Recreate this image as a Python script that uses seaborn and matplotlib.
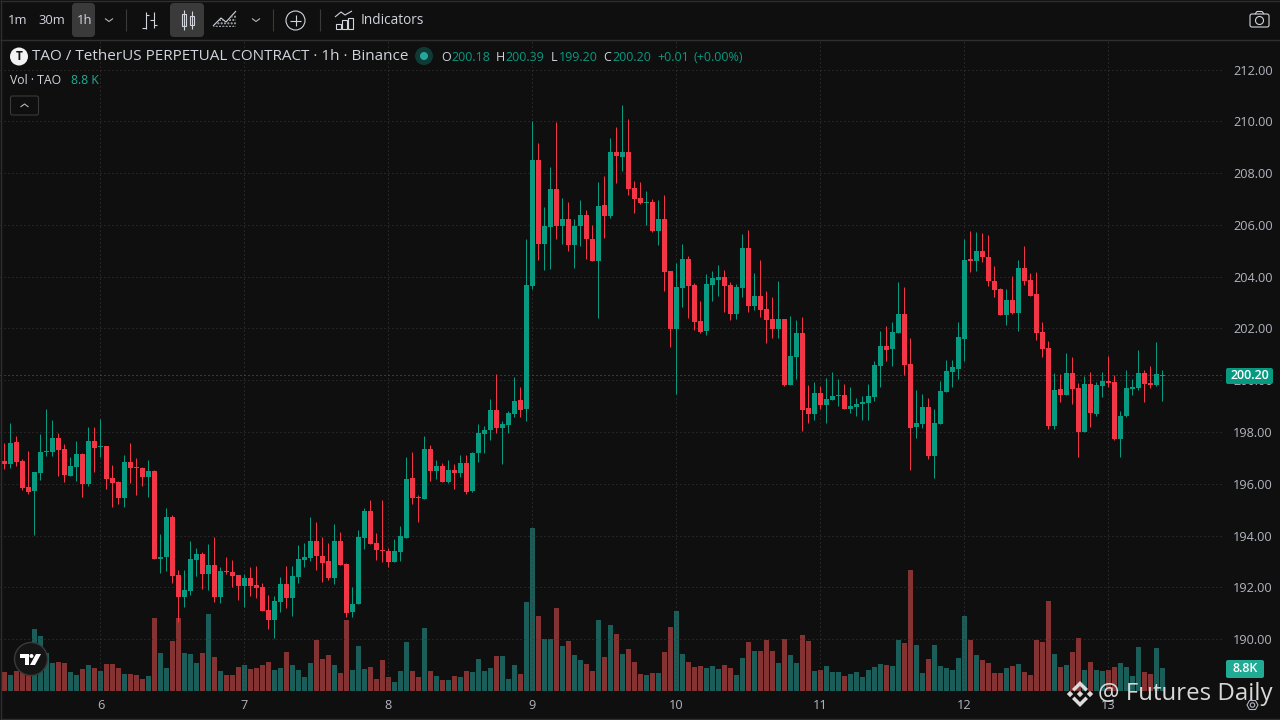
import matplotlib
matplotlib.use('Agg')
import matplotlib.pyplot as plt
from matplotlib.patches import Circle, FancyBboxPatch, Polygon, Rectangle
import numpy as np
import pandas as pd
import seaborn as sns

BG = '#0f0f0f'
UP = '#089981'
DOWN = '#f23645'
VOL_UP = '#1a5d59'
VOL_DOWN = '#843232'
GRID = '#3a3a3a'
TEXT = '#b2b5be'

open_px = [
    196.89, 196.78, 197.63, 196.89, 195.89, 195.73, 196.43, 197.24, 197.24, 197.78,
    197.36, 196.31, 196.66, 197.16, 196.01, 197.67, 197.43, 197.47, 196.24, 196.08,
    195.46, 196.85, 196.66, 196.62, 196.28, 196.51, 193.11, 193.19, 194.73, 192.49,
    191.64, 191.87, 193.07, 193.30, 192.53, 192.88, 191.64, 192.65, 192.61, 192.49,
    192.07, 192.38, 192.11, 192.03, 191.14, 190.75, 191.45, 192.14, 191.60, 192.41,
    193.07, 193.15, 193.80, 193.23, 193.03, 192.38, 193.80, 192.92, 191.05, 191.37,
    193.92, 194.96, 193.73, 193.46, 193.42, 193.00, 193.38, 193.92, 196.24, 195.50,
    195.43, 197.36, 196.51, 196.70, 196.08, 196.55, 196.43, 196.82, 195.73, 197.20,
    197.94, 198.09, 198.86, 198.17, 198.28, 198.71, 199.25, 198.90, 203.63, 208.51,
    205.28, 205.90, 207.40, 205.94, 206.21, 205.21, 205.94, 206.40, 205.44, 204.59,
    206.78, 206.36, 208.82, 208.63, 208.82, 207.44, 207.05, 206.86, 206.90, 205.78,
    206.21, 204.21, 201.97, 203.55, 204.67, 203.67, 202.28, 201.90, 203.67, 203.86,
    203.97, 203.67, 202.55, 203.55, 205.09, 202.86, 203.24, 202.74, 202.36, 201.97,
    202.36, 199.81, 200.89, 201.82, 198.92, 198.69, 199.50, 199.04, 199.23, 199.39,
    199.43, 198.89, 198.96, 199.08, 199.12, 199.35, 200.55, 201.32, 201.20, 201.82,
    202.55, 200.62, 198.19, 198.31, 198.96, 197.07, 198.31, 199.54, 200.31, 200.43,
    201.59, 204.68, 204.60, 204.99, 204.75, 203.83, 203.52, 202.51, 203.09, 202.59,
    204.33, 203.87, 203.33, 201.86, 201.24, 198.23, 199.66, 199.43, 200.28, 199.70,
    198.00, 199.85, 198.69, 199.77, 199.97, 199.93, 197.73, 198.62, 199.66, 199.70,
    200.28, 199.89, 199.81, 200.18,
]
high_px = [
    197.59, 198.36, 197.86, 196.97, 197.28, 196.47, 197.94, 198.90, 198.48, 197.97,
    197.55, 197.05, 197.67, 197.20, 198.21, 198.21, 198.51, 197.47, 196.74, 196.12,
    197.12, 197.59, 197.01, 196.66, 196.93, 196.55, 194.07, 195.08, 194.81, 192.68,
    192.68, 193.80, 193.53, 193.38, 193.69, 193.96, 192.80, 193.19, 193.07, 192.49,
    192.53, 192.80, 192.84, 192.18, 191.72, 191.68, 192.41, 192.84, 192.84, 193.65,
    193.73, 194.73, 194.54, 193.96, 193.73, 194.46, 194.15, 192.95, 192.03, 194.23,
    195.08, 195.39, 194.11, 195.39, 193.53, 193.88, 194.38, 197.05, 197.24, 195.58,
    197.86, 197.51, 196.93, 196.82, 196.93, 196.78, 197.12, 197.12, 197.24, 198.32,
    198.24, 199.29, 200.25, 198.44, 198.82, 200.14, 199.75, 205.44, 210.00, 209.17,
    206.71, 208.24, 209.97, 207.05, 206.90, 206.24, 206.97, 206.59, 206.01, 207.67,
    207.90, 209.36, 209.78, 210.63, 210.09, 207.71, 207.67, 207.32, 207.01, 206.97,
    207.17, 204.21, 204.51, 205.28, 204.78, 203.74, 203.05, 204.09, 204.21, 204.47,
    204.24, 203.78, 203.71, 205.63, 205.82, 204.13, 204.63, 203.44, 203.21, 203.82,
    202.36, 202.48, 202.32, 202.44, 199.81, 199.93, 199.77, 200.08, 200.31, 200.04,
    199.85, 199.73, 199.31, 199.39, 199.85, 200.74, 201.90, 202.09, 202.24, 203.79,
    203.60, 201.63, 199.62, 199.46, 199.31, 198.89, 199.97, 200.78, 200.78, 202.24,
    205.45, 205.76, 205.72, 205.68, 205.60, 204.41, 203.56, 203.52, 204.02, 204.64,
    205.18, 204.14, 204.18, 202.24, 201.51, 200.28, 200.24, 201.05, 200.89, 199.89,
    200.16, 200.31, 199.93, 200.31, 200.93, 200.20, 198.81, 200.39, 200.04, 201.16,
    200.39, 200.55, 201.47, 200.39,
]
low_px = [
    196.58, 196.62, 196.70, 195.77, 195.62, 194.04, 196.16, 197.09, 197.09, 196.31,
    196.08, 196.31, 196.12, 195.50, 195.93, 196.47, 197.05, 195.81, 195.12, 195.23,
    195.12, 196.04, 195.58, 195.93, 195.50, 193.11, 192.57, 192.65, 192.18, 190.68,
    191.26, 191.72, 192.45, 191.95, 191.91, 191.45, 191.41, 192.53, 192.03, 191.53,
    191.26, 191.68, 191.60, 191.10, 190.41, 190.06, 191.06, 191.22, 190.91, 192.17,
    192.80, 193.03, 192.68, 192.22, 192.30, 192.14, 192.88, 190.86, 190.86, 191.37,
    193.50, 193.69, 193.07, 193.00, 192.80, 193.00, 193.03, 193.92, 195.23, 194.54,
    195.43, 196.12, 196.20, 196.08, 196.04, 195.81, 196.28, 195.62, 195.70, 196.85,
    197.20, 197.70, 197.97, 196.78, 197.97, 198.59, 198.59, 198.44, 203.51, 204.63,
    204.24, 204.28, 205.44, 205.28, 205.01, 204.32, 205.17, 204.67, 204.59, 202.40,
    205.51, 206.28, 207.63, 208.09, 207.17, 206.47, 206.82, 206.01, 205.74, 205.24,
    203.44, 201.28, 199.47, 202.82, 202.40, 201.94, 201.82, 201.74, 203.05, 203.24,
    202.63, 202.32, 202.36, 203.21, 202.63, 202.71, 202.44, 201.44, 201.63, 201.63,
    199.77, 199.81, 200.04, 198.04, 198.34, 198.46, 198.89, 198.34, 199.23, 199.00,
    198.89, 198.73, 198.62, 198.46, 198.46, 199.19, 199.73, 200.74, 200.55, 201.82,
    200.20, 196.53, 197.77, 198.15, 196.95, 196.22, 198.31, 199.54, 199.73, 200.04,
    200.74, 204.18, 204.21, 204.56, 203.63, 203.21, 202.51, 202.13, 202.55, 201.90,
    203.67, 203.25, 201.55, 200.89, 198.11, 198.11, 199.16, 199.43, 199.08, 197.03,
    198.00, 198.19, 198.62, 199.35, 199.73, 197.69, 197.03, 198.58, 199.43, 199.62,
    199.16, 199.70, 199.77, 199.20,
]
close_px = [
    196.78, 197.59, 196.85, 195.85, 195.70, 196.47, 197.24, 197.28, 197.78, 197.32,
    196.35, 196.70, 197.16, 196.01, 197.67, 197.40, 197.47, 196.20, 196.04, 195.46,
    196.85, 196.62, 196.62, 196.28, 196.51, 193.11, 193.19, 194.73, 192.45, 191.64,
    191.91, 193.11, 193.30, 192.53, 192.88, 191.64, 192.65, 192.61, 192.45, 192.07,
    192.38, 192.07, 191.99, 191.10, 190.75, 191.49, 192.14, 191.60, 192.45, 193.11,
    193.19, 193.80, 193.23, 192.95, 192.38, 193.80, 192.88, 191.02, 191.37, 193.96,
    194.96, 193.69, 193.46, 193.42, 193.00, 193.42, 194.00, 196.20, 195.46, 195.46,
    197.36, 196.51, 196.70, 196.08, 196.55, 196.43, 196.82, 195.70, 197.20, 197.97,
    198.09, 198.86, 198.17, 198.32, 198.75, 199.21, 198.86, 203.67, 208.51, 205.28,
    205.94, 207.40, 205.94, 206.21, 205.24, 205.97, 206.40, 205.44, 204.59, 206.74,
    206.36, 208.82, 208.67, 208.82, 207.40, 207.01, 206.86, 206.90, 205.78, 206.24,
    204.17, 201.97, 203.59, 204.67, 203.63, 202.24, 201.86, 203.71, 203.94, 203.97,
    203.63, 202.55, 203.59, 205.09, 202.86, 203.24, 202.71, 202.32, 201.97, 202.36,
    199.81, 200.93, 201.82, 198.85, 198.69, 199.50, 199.04, 199.27, 199.39, 199.43,
    198.89, 199.00, 199.08, 199.16, 199.39, 200.58, 201.32, 201.16, 201.86, 202.55,
    200.58, 198.15, 198.34, 198.96, 197.07, 198.34, 199.58, 200.35, 200.51, 201.67,
    204.64, 204.60, 204.99, 204.75, 203.83, 203.48, 202.51, 203.09, 202.59, 204.33,
    203.83, 203.25, 201.82, 201.20, 198.23, 199.62, 199.43, 200.28, 199.66, 198.00,
    199.85, 198.73, 199.81, 199.97, 199.89, 197.73, 198.62, 199.70, 199.73, 200.28,
    199.85, 199.81, 200.24, 200.20,
]
# volume in thousands of TAO
volume_k = [
    7.3, 6.1, 7.7, 7.3, 6.9, 23.7, 21.0, 14.5, 10.7, 11.1,
    10.7, 7.3, 6.1, 8.4, 9.9, 8.8, 7.7, 10.3, 10.3, 8.8,
    6.5, 6.5, 6.1, 4.6, 5.7, 27.9, 14.5, 8.8, 19.1, 27.9,
    14.5, 14.2, 10.7, 14.5, 29.5, 13.0, 7.7, 6.1, 6.1, 9.2,
    9.9, 8.4, 8.8, 9.9, 11.1, 8.0, 8.8, 14.9, 9.9, 8.0,
    5.4, 10.7, 19.5, 12.2, 13.8, 9.9, 6.9, 27.2, 8.0, 17.2,
    8.4, 9.2, 4.6, 11.9, 5.4, 3.4, 7.7, 18.7, 7.7, 5.4,
    24.1, 7.7, 5.7, 4.2, 4.2, 5.7, 5.4, 7.7, 7.3, 12.2,
    7.7, 8.8, 13.4, 13.4, 4.6, 9.9, 6.5, 34.0, 62.3, 28.7,
    19.9, 19.9, 31.7, 17.2, 19.1, 13.8, 11.9, 10.3, 7.7, 27.2,
    13.0, 25.2, 21.8, 14.2, 16.1, 11.1, 6.5, 6.1, 6.9, 6.9,
    14.9, 24.5, 30.6, 14.2, 11.1, 9.2, 9.6, 8.8, 9.6, 8.4,
    9.9, 8.8, 6.1, 12.6, 18.7, 15.3, 15.3, 19.5, 15.3, 10.7,
    19.9, 13.8, 10.7, 21.4, 19.1, 7.7, 8.0, 9.6, 7.3, 7.3,
    5.7, 6.5, 7.3, 5.4, 8.0, 9.2, 10.3, 9.9, 9.6, 19.5,
    18.4, 46.3, 17.6, 6.9, 12.2, 17.6, 9.6, 8.8, 8.0, 12.6,
    28.7, 19.5, 13.8, 11.9, 10.7, 6.9, 6.9, 8.8, 9.6, 10.3,
    7.3, 6.1, 19.5, 18.7, 34.4, 14.2, 9.2, 9.9, 14.9, 20.3,
    8.0, 11.1, 8.0, 7.7, 8.0, 9.2, 10.7, 9.2, 5.7, 16.8,
    7.3, 6.5, 16.4, 8.8,
]
day_ticks = [16, 40, 64, 88, 112, 136, 160, 184]
day_labels = ['6', '7', '8', '9', '10', '11', '12', '13']
price_ticks = list(range(190, 214, 2))
last_close = 200.20

df = pd.DataFrame({'open': open_px, 'high': high_px, 'low': low_px,
                   'close': close_px, 'volume': volume_k})
df['t'] = np.arange(len(df))
df['side'] = np.where(df['close'] >= df['open'], 'up', 'down')
df['color'] = df['side'].map({'up': UP, 'down': DOWN})

sns.set_theme(style='dark', rc={'figure.facecolor': BG, 'axes.facecolor': BG,
                                'savefig.facecolor': BG})
plt.rcParams['font.family'] = ['Open Sans', 'DejaVu Sans']

fig = plt.figure(figsize=(12.8, 7.2), dpi=100)
W, H = 1280, 720
# chart pane runs from x=0 to 1222 and y=40 to 691 in pixels
rect = [0, (H - 691) / H, 1222 / W, 651 / H]
ax_vol = fig.add_axes(rect)
ax = fig.add_axes(rect, sharex=ax_vol)

# volume first, so the candles sit on top
sns.barplot(data=df, x='t', y='volume', hue='side', ax=ax_vol, native_scale=True,
            palette={'up': VOL_UP, 'down': VOL_DOWN}, dodge=False, width=5 / 6,
            saturation=1, linewidth=0, legend=False)
ax_vol.set_ylim(0, 249)
ax_vol.set_xlabel('')
ax_vol.set_ylabel('')
ax_vol.set_yticks([])
ax_vol.set_xticks(day_ticks)
ax_vol.set_xticklabels(day_labels, color=TEXT, fontsize=9.2)
ax_vol.tick_params(axis='x', length=0, pad=6)
ax_vol.set_xlim(-0.75, 202.917)
for spine in ax_vol.spines.values():
    spine.set_visible(False)

ax.patch.set_visible(False)
ax.vlines(df['t'], df['low'], df['high'], colors=df['color'], linewidth=0.72, zorder=3)
ax.bar(df['t'], (df['close'] - df['open']).abs().clip(lower=0.04),
       bottom=df[['open', 'close']].min(axis=1), width=5 / 6, color=df['color'],
       linewidth=0, zorder=4)
ax.set_ylim(188.0, 213.14)
ax.set_yticks(price_ticks)
ax.set_yticklabels([f'{p:.2f}' for p in price_ticks], color=TEXT, fontsize=9.2)
ax.yaxis.tick_right()
ax.tick_params(axis='y', length=0, pad=8)
ax.tick_params(axis='x', length=0, labelbottom=False)
for spine in ax.spines.values():
    spine.set_visible(False)
dots = (0, (1, 3))
for p in price_ticks:
    ax.axhline(p, color=GRID, linewidth=0.72, linestyle=dots, zorder=1)
for d in day_ticks:
    ax.axvline(d, color=GRID, linewidth=0.72, linestyle=dots, zorder=1)
ax.axhline(last_close, color='#1f7f72', linewidth=0.72, linestyle=dots, zorder=2)

# everything around the chart, in pixel coordinates
ui = fig.add_axes([0, 0, 1, 1], zorder=10)
ui.set_xlim(0, W)
ui.set_ylim(H, 0)
ui.axis('off')
LINE = '#d1d4dc'
EDGE = '#2e2e2e'


def label(x, y, s, color=LINE, size=9.4, ha='left', **kw):
    ui.text(x, y, s, color=color, fontsize=size, ha=ha, va='center', **kw)


def stroke(xs, ys, color=LINE, lw=0.8, **kw):
    ui.plot(xs, ys, color=color, linewidth=lw, solid_capstyle='butt', **kw)


def round_box(x, y, w, h, fc, ec='none', r=4):
    ui.add_patch(FancyBboxPatch((x, y), w, h, boxstyle=f'round,pad=0,rounding_size={r}',
                                fc=fc, ec=ec, lw=0.8))


def chevron(cx, cy, up=False):
    d = -3 if up else 3
    stroke([cx - 4, cx, cx + 4], [cy - d / 2, cy + d / 2, cy - d / 2], color=TEXT)


# frame and toolbar
stroke([0, W], [39.5, 39.5], color=EDGE, lw=1)
stroke([0.5, 0.5], [0, H], color=EDGE, lw=1)
stroke([0, W], [0.5, 0.5], color=EDGE, lw=1)
stroke([0, W], [H - 1.5, H - 1.5], color=EDGE, lw=1)
round_box(72, 3, 23, 34, '#3a3a3a')
round_box(170, 3, 34, 34, '#3a3a3a')
label(8, 20.5, '1m')
label(38, 20.5, '30m')
label(77, 20.5, '1h')
chevron(109, 20)
chevron(256, 20)
for x in (125.5, 272.5, 319.5):
    stroke([x, x], [9, 31], color='#3a3a3a', lw=0.8)

# bars icon
stroke([146, 146], [12, 29])
stroke([142, 146], [28, 28])
stroke([146, 149], [15, 15])
stroke([154, 154], [12, 28])
stroke([150, 154], [20, 20])
stroke([154, 157], [25, 25])
# candles icon
stroke([183.5, 183.5], [10, 30])
ui.add_patch(Rectangle((181.5, 14), 4, 12, fc='#3a3a3a', ec=LINE, lw=0.8))
stroke([191.5, 191.5], [11, 29])
ui.add_patch(Rectangle((189.5, 16), 4, 9, fc='#3a3a3a', ec=LINE, lw=0.8))
# area icon
ui.add_patch(Polygon([(213, 27), (221, 19), (226, 23), (236, 13), (236, 27)],
                     fc='none', ec=TEXT, lw=0, hatch='.....'))
stroke([213, 221, 226, 236], [26, 18, 22, 11])
# plus icon
ui.add_patch(Circle((295.5, 20.5), 9.5, fc='none', ec=LINE, lw=0.8))
stroke([290, 301], [20.5, 20.5])
stroke([295.5, 295.5], [15, 26])
# indicators icon
for x0, top in ((335.5, 23.5), (341.5, 19.5), (347.5, 17.5)):
    ui.add_patch(Rectangle((x0, top), 5, 28.5 - top, fc='none', ec=LINE, lw=0.8))
stroke([335, 341, 345, 352], [17, 12, 15, 11])
label(361, 20.5, 'Indicators', size=9.8)
# camera
round_box(1250, 14, 19, 13, 'none', ec=LINE, r=2)
stroke([1255, 1257, 1262, 1264], [14, 11.5, 11.5, 14])
ui.add_patch(Circle((1259.5, 20.5), 4, fc='none', ec=LINE, lw=0.8))

# legend rows
ui.add_patch(Circle((19, 56.5), 9, fc='#f2f2f2', ec='none'))
label(19, 56.5, 'T', color='#111111', size=8.5, ha='center', fontweight='bold')
label(32, 57, 'TAO / TetherUS PERPETUAL CONTRACT · 1h · Binance', size=11)
ui.add_patch(Circle((424, 56), 9, fc='#0f3a36', ec='none'))
ui.add_patch(Circle((424, 56), 4, fc='#26a69a', ec='none'))
for x, s, c in [(441, 'O', LINE), (451, '200.18', UP), (496, 'H', LINE), (505, '200.39', UP),
                (551, 'L', LINE), (559, '199.20', UP), (603, 'C', LINE), (612, '200.20', UP),
                (657, '+0.01', UP), (693, '(+0.00%)', UP)]:
    label(x, 57.5, s, color=c, size=9)
label(10, 81, 'Vol · TAO', size=8.8)
label(71, 81, '8.8 K', color='#22ab94', size=8.8)
round_box(10.5, 96, 28, 19, BG, ec='#3a3a3a', r=2)
chevron(24.5, 105.5, up=True)

# last value tags
round_box(1226, 368, 47, 16, UP, r=2)
label(1249.5, 375.5, '200.20', color='white', size=9, ha='center', fontweight='semibold')
round_box(1226, 660, 38, 18, '#22ab94', r=2)
label(1245, 669, '8.8K', color='white', size=9, ha='center', fontweight='semibold')

# TradingView badge
ui.add_patch(Circle((31, 659), 16.5, fc='#151515', ec='#3a3a3a', lw=1))
ui.add_patch(Polygon([(20, 654), (29, 654), (29, 665), (25, 665), (25, 658), (20, 658)],
                     fc='white', ec='none'))
ui.add_patch(Circle((31.5, 656), 2, fc='white', ec='none'))
ui.add_patch(Polygon([(36, 654), (41, 654), (35, 665), (30, 665)], fc='white', ec='none'))

# settings hexagon
ui.add_patch(Polygon([(1247, 705), (1249.5, 700.5), (1255.5, 700.5), (1258, 705),
                      (1255.5, 709.5), (1249.5, 709.5)], fc='none', ec=TEXT, lw=0.8))
ui.add_patch(Circle((1252.5, 705), 2.2, fc='none', ec=TEXT, lw=0.8))

# watermark, the exchange logo is two chevrons and three small diamonds
MARK = '#dcdcdc'
for cx, cy in [(1070, 694), (1080, 694), (1090, 694)]:
    ui.add_patch(Polygon([(cx - 3.2, cy), (cx, cy - 3.2), (cx + 3.2, cy), (cx, cy + 3.2)],
                         fc=MARK, ec='none'))
ui.add_patch(Polygon([(1080, 681), (1088, 689), (1085.5, 691.5), (1080, 686), (1074.5, 691.5), (1072, 689)],
                     fc=MARK, ec='none'))
ui.add_patch(Polygon([(1080, 707), (1088, 699), (1085.5, 696.5), (1080, 702), (1074.5, 696.5), (1072, 699)],
                     fc=MARK, ec='none'))
label(1098, 694, '@ Futures Daily', color='#d8d8d8', size=17.3)

fig.savefig('out.png', dpi=100, facecolor=BG)
